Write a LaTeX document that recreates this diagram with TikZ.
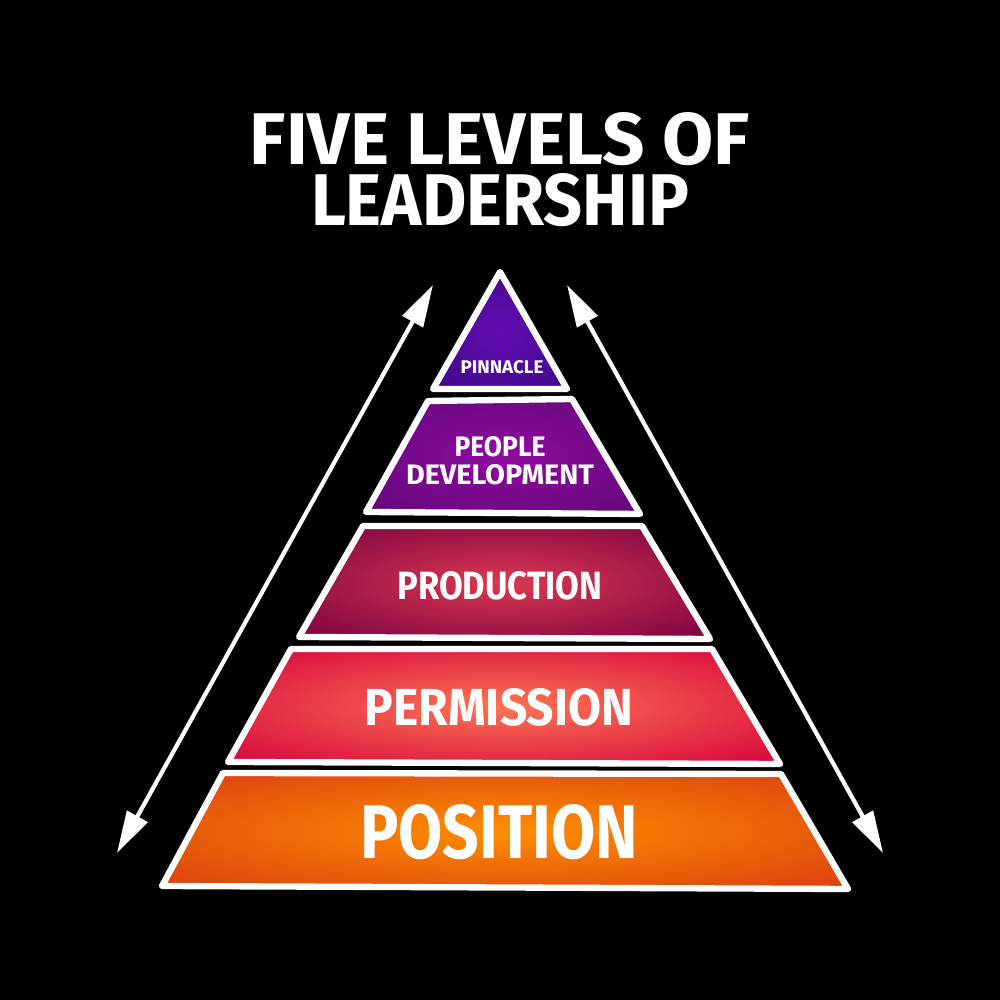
\documentclass[tikz,border=0pt]{standalone}
\usepackage{graphicx}
\usepackage{fontspec}
\setmainfont{Fira Sans}
\usetikzlibrary{arrows.meta}
\pgfdeclareradialshading{shPin}{\pgfpointorigin}{rgb(0bp)=(0.38,0.05,0.70); rgb(40bp)=(0.24,0.03,0.50); rgb(60bp)=(0.24,0.03,0.50)}
\pgfdeclareradialshading{shPeo}{\pgfpointorigin}{rgb(0bp)=(0.56,0.04,0.62); rgb(40bp)=(0.36,0.03,0.46); rgb(60bp)=(0.36,0.03,0.46)}
\pgfdeclareradialshading{shPro}{\pgfpointorigin}{rgb(0bp)=(0.86,0.22,0.32); rgb(36bp)=(0.47,0.0,0.25); rgb(60bp)=(0.47,0.0,0.25)}
\pgfdeclareradialshading{shPer}{\pgfpointorigin}{rgb(0bp)=(0.99,0.46,0.32); rgb(36bp)=(0.84,0.0,0.24); rgb(60bp)=(0.84,0.0,0.24)}
\pgfdeclareradialshading{shPos}{\pgfpointorigin}{rgb(0bp)=(1.0,0.56,0.0); rgb(38bp)=(0.85,0.22,0.07); rgb(60bp)=(0.85,0.22,0.07)}
\newcommand{\fitt}[3]{\resizebox{#1}{#2}{\bfseries #3}}
\begin{document}
\begin{tikzpicture}[
  layer/.style={draw=white, line width=1.8pt, line join=round},
  lbl/.style={text=white, inner sep=0pt, anchor=center},
  arr/.style={draw=white, line width=1.2pt, {Triangle[length=4.2mm,width=2.3mm]}-{Triangle[length=4.2mm,width=2.3mm]}}
]
\useasboundingbox (0,0) rectangle (10,10);
\fill[black] (0,0) rectangle (10,10);

% title
\node[lbl, align=center, font=\fontsize{12}{17.36pt}\selectfont] (title) at (5.00,8.30)
  {\fitt{5.0cm}{0.52cm}{FIVE LEVELS OF}\\\fitt{3.78cm}{0.52cm}{LEADERSHIP}};

% layers
\path[layer, shading=shPin] (5.00,7.28) -- (5.67,6.11) -- (4.33,6.11) -- cycle;
\path[layer, shading=shPeo] (4.28,5.99) -- (5.72,6.01) -- (6.40,4.86) -- (3.66,4.88) -- cycle;
\path[layer, shading=shPro] (3.63,4.74) -- (6.42,4.74) -- (7.10,3.61) -- (2.99,3.63) -- cycle;
\path[layer, shading=shPer] (2.91,3.51) -- (7.12,3.51) -- (7.80,2.36) -- (2.28,2.38) -- cycle;
\path[layer, shading=shPos] (2.23,2.27) -- (7.81,2.26) -- (8.48,1.11) -- (1.62,1.14) -- cycle;

% labels
\node[lbl] (pin) at (5.02,6.33) {\fitt{0.83cm}{0.13cm}{PINNACLE}};
\node[lbl, align=center, font=\fontsize{8}{7.9pt}\selectfont] (peo) at (5.00,5.39)
  {\fitt{0.91cm}{0.20cm}{PEOPLE}\\\fitt{1.88cm}{0.20cm}{DEVELOPMENT}};
\node[lbl] (pro) at (5.00,4.14) {\fitt{2.05cm}{0.28cm}{PRODUCTION}};
\node[lbl] (per) at (4.99,2.93) {\fitt{2.68cm}{0.37cm}{PERMISSION}};
\node[lbl] (pos) at (4.99,1.68) {\fitt{2.78cm}{0.54cm}{POSITION}};

% arrows
\coordinate (la) at (4.33,7.15);
\coordinate (lb) at (1.17,1.47);
\coordinate (ra) at (5.67,7.15);
\coordinate (rb) at (8.83,1.47);
\draw[arr] (lb) -- (la);
\draw[arr] (ra) -- (rb);
\end{tikzpicture}
\end{document}
